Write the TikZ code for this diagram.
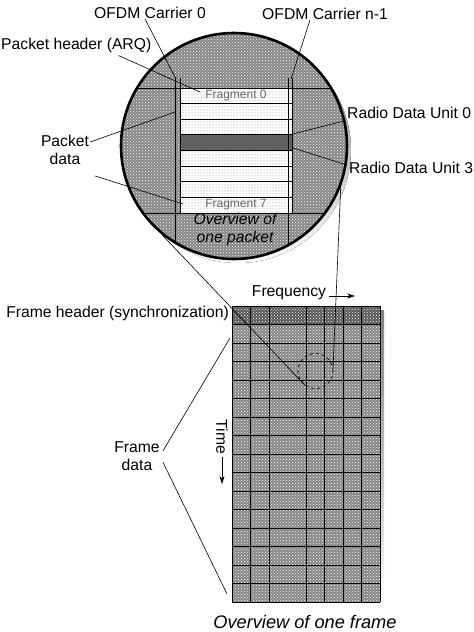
\documentclass[tikz,border=0pt]{standalone}
\usepackage{fontspec}
\setmainfont{Liberation Sans}
\usepackage{tikz}
\usetikzlibrary{arrows,arrows.meta,shapes,positioning,patterns}
\definecolor{shade}{gray}{0.6}
\tikzstyle{lbl} = [inner sep=0pt, font=\fontsize{15.7}{18}\selectfont, align=center]
\tikzstyle{captext} = [inner sep=0pt, font=\fontsize{15.7}{18}\selectfont\itshape, align=center]
\tikzstyle{frag} = [inner sep=0pt, font=\fontsize{12}{14}\selectfont, text=black!60]
\tikzstyle{leader} = [line width=0.6pt, black]
\tikzstyle{axisarrow} = [line width=0.6pt, black, -{Stealth[length=8pt,width=5pt]}]
\tikzstyle{dotfill} = [pattern=crosshatch dots, pattern color=white]
\tikzstyle{gridline} = [line width=0.9pt, black]

\begin{document}
\begin{tikzpicture}[x=1pt,y=-1pt]
  	\useasboundingbox (0,0) rectangle (474,632);
  	
  	% shadows
  	\fill[shade] (238,150) circle (113pt);
  	\fill[shade] (236,310) rectangle (384,607);
  	
  	% inside of the packet circle
  	\begin{scope}
  	  \clip (234,146) circle (113pt);
  	  \fill[black!48] (115,25) rectangle (355,265);
  	  \fill[dotfill] (115,25) rectangle (355,265);
  	  \fill[white] (180,88) rectangle (292,213);
  	  \fill[pattern=dots, pattern color=black!50] (180,88) rectangle (292,213);
  	  \fill[black!62] (180,134.8) rectangle (292,150.4);
  	  \draw[gridline] (100,88) -- (370,88);
  	  \draw[gridline] (100,213) -- (370,213);
  	  \draw[line width=0.8pt] (175,78) -- (175,250);
  	  \draw[line width=0.8pt] (288,78) -- (288,250);
  	\end{scope}
  	\draw[line width=0.7pt] (180,78) -- (180,213) (292,78) -- (292,213);
  	\foreach \r in {1,...,7}
  	  \draw[line width=0.8pt] (180,{88+\r*15.6}) -- (292,{88+\r*15.6});
  	\node[circle, draw, line width=2.6pt, minimum size=226pt, inner sep=0pt] (pkt) at (234,146) {};
  	
  	\node[frag] (frag0) at (236,96) {Fragment 0};
  	\node[frag] (frag7) at (236,205) {Fragment 7};
  	\node[captext] (pktcap) at (235,229) {Overview of\\one packet};
  	
  	% labels round the packet
  	\node[lbl] (car0) at (150,13) {OFDM Carrier 0};
  	\node[lbl] (carn) at (325,14) {OFDM Carrier n-1};
  	\node[lbl, anchor=west] (hdr) at (1,45) {Packet header (ARQ)};
  	\node[lbl] (pdata) at (65,150) {Packet\\data};
  	\node[lbl, anchor=west] (rdu0) at (347,113) {Radio Data Unit 0};
  	\node[lbl, anchor=west] (rdu3) at (349,168) {Radio Data Unit 3};
  	
  	\coordinate (car0end) at (176,79);
  	\coordinate (carnend) at (291,79);
  	\coordinate (hdrend) at (200,92);
  	\coordinate (pdata1) at (175,112);
  	\coordinate (pdata2) at (183,204);
  	\coordinate (rdu0end) at (293,134);
  	\coordinate (rdu3end) at (293,148);
  	
  	\draw[leader] ([xshift=-5pt]car0.south) -- (car0end);
  	\draw[leader] ([xshift=-15pt]carn.south) -- (carnend);
  	\draw[leader] ([xshift=-33pt,yshift=-3pt]hdr.south east) -- (hdrend);
  	\draw[leader] ([xshift=1pt,yshift=8pt]pdata.east) -- (pdata1);
  	\draw[leader] ([xshift=6pt,yshift=-11pt]pdata.south east) -- (pdata2);
  	\draw[leader] ([xshift=-3pt,yshift=-2pt]rdu0.south west) -- (rdu0end);
  	\draw[leader] ([xshift=-2pt,yshift=-3pt]rdu3.north west) -- (rdu3end);
  	
  	% the frame
  	\fill[black!48] (232,324.5) rectangle (380,602);
  	\fill[dotfill] (232,324.5) rectangle (380,602);
  	\fill[black!66] (232,306) rectangle (380,324.5);
  	\fill[dotfill] (232,306) rectangle (380,324.5);
  	\foreach \i in {0,1,2,4,5,6,7,8}
  	  \draw[gridline] ({232+\i*18.5},306) -- ({232+\i*18.5},602);
  	\draw[line width=0.5pt] (269,306) -- (269,602);
  	\draw[gridline] (232,306) -- (380,306);
  	\foreach \j in {0,...,15}
  	  \draw[gridline] (232,{324.5+\j*18.5}) -- (380,{324.5+\j*18.5});
  	
  	\node[circle, draw, dashed, line width=0.7pt, minimum size=35pt, inner sep=0pt] (spot) at (315.5,371) {};
  	\draw[leader] (pkt.231) -- (spot.236);
  	\draw[leader] (pkt.339) -- (spot.10);
  	
  	% labels round the frame
  	\node[lbl] (freq) at (289,293) {Frequency};
  	\coordinate (freqtip) at (355,296);
  	\draw[axisarrow] ([xshift=3pt,yshift=-3pt]freq.east) -- (freqtip);
  	\node[lbl, rotate=-90] (time) at (222,437) {Time};
  	\coordinate (timetip) at (222,484);
  	\draw[axisarrow] ([yshift=-3pt]time.east) -- (timetip);
  	
  	\node[lbl, anchor=east] (fhdr) at (229,313) {Frame header (synchronization)};
  	\node[lbl] (fdata) at (137,456) {Frame\\data};
  	\coordinate (fdata1) at (230,338);
  	\coordinate (fdata2) at (227,594);
  	\draw[leader] ([xshift=3pt,yshift=5pt]fdata.east) -- (fdata1);
  	\draw[leader] ([xshift=3pt,yshift=-6pt]fdata.east) -- (fdata2);
  	
  	\node[captext, font=\fontsize{18.2}{20}\selectfont\itshape] (framecap) at (305,622) {Overview of one frame};
\end{tikzpicture}
\end{document}
